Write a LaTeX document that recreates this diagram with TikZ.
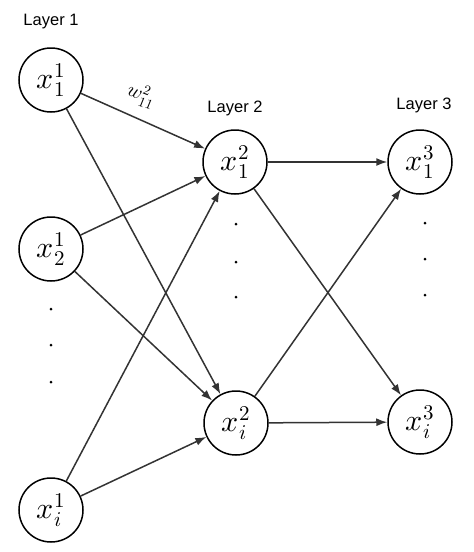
\documentclass[tikz,border=0pt]{standalone}
\usepackage{fontspec}
\usepackage{unicode-math}
\setsansfont{Liberation Sans}
\usetikzlibrary{arrows.meta}
\tikzset{
  neuron/.style={draw=black, line width=1.5pt, circle, minimum size=64pt, inner sep=0pt, font=\fontsize{30}{34}\selectfont},
  layerlabel/.style={font=\sffamily\fontsize{16.5}{19}\selectfont, inner sep=0pt},
  conn/.style={draw=black!80, line width=1.5pt, -{Latex[length=11pt,width=8pt]}},
  dotmark/.style={circle, fill=black, inner sep=0pt, minimum size=3pt},
  wlabel/.style={font=\fontsize{20}{22}\selectfont, inner sep=0pt, rotate=-22}
}
\begin{document}
\begin{tikzpicture}[x=1pt,y=-1pt]
\useasboundingbox (0,0) rectangle (474,552);
\node[neuron] (a1) at (51,80) {$x_1^1$};
\node[neuron] (a2) at (51,249) {$x_2^1$};
\node[neuron] (ai) at (51,510) {$x_i^1$};
\node[neuron] (b1) at (235,162) {$x_1^2$};
\node[neuron] (bi) at (236,423) {$x_i^2$};
\node[neuron] (c1) at (420,162) {$x_1^3$};
\node[neuron] (ci) at (420,422) {$x_i^3$};
\node[layerlabel] (l1) at (51,22) {Layer 1};
\node[layerlabel] (l2) at (235,108) {Layer 2};
\node[layerlabel] (l3) at (424,105) {Layer 3};
\node[wlabel] (w) at (142,95) {$w_{11}^2$};
\node[dotmark] (d11) at (51,309) {};
\node[dotmark] (d12) at (51,345) {};
\node[dotmark] (d13) at (51,382) {};
\node[dotmark] (d21) at (236,224) {};
\node[dotmark] (d22) at (236,262) {};
\node[dotmark] (d23) at (236,297) {};
\node[dotmark] (d31) at (425,223) {};
\node[dotmark] (d32) at (425,259) {};
\node[dotmark] (d33) at (425,295) {};
\draw[conn] (a1) -- (b1);
\draw[conn] (a1) -- (bi);
\draw[conn] (a2) -- (b1);
\draw[conn] (a2) -- (bi);
\draw[conn] (ai) -- (b1);
\draw[conn] (ai) -- (bi);
\draw[conn] (b1) -- (c1);
\draw[conn] (b1) -- (ci);
\draw[conn] (bi) -- (c1);
\draw[conn] (bi) -- (ci);
\end{tikzpicture}
\end{document}
